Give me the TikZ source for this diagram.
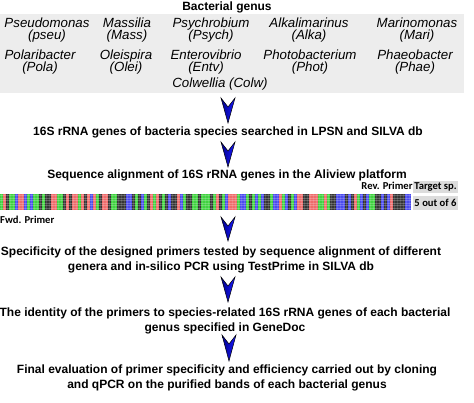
\documentclass[tikz,border=0pt]{standalone}
\usepackage{fontspec}
\setmainfont{Liberation Sans}
\newfontfamily\carlitofont{Carlito}
\definecolor{boxgray}{HTML}{EDEDED}
\definecolor{tagGray}{HTML}{DCDCDC}
\definecolor{algG}{HTML}{3FD23F}
\definecolor{algR}{HTML}{EE6B6B}
\definecolor{algB}{HTML}{4B4BEE}
\definecolor{algK}{HTML}{353535}
\tikzset{
  x=1pt, y=-1pt,
  genus/.style={font=\itshape\fontsize{13.3}{12.5}\selectfont, align=center, inner sep=0pt},
  stepbox/.style={font=\bfseries\fontsize{12}{15}\selectfont, align=center, inner sep=0pt},
  tag/.style={font=\carlitofont\bfseries\fontsize{10.6}{11}\selectfont, inner sep=0pt},
  chev/.style={left color=blue!55!black, right color=blue!90!white, draw=black, line width=0.5pt, line join=miter}
}
\newcommand\chevron[2]{\shade[chev] (#1) ++(-7,0) -- ++(7,#2) -- ++(7,-#2) -- ++(-7,9) -- cycle;}
\begin{document}
\begin{tikzpicture}
\useasboundingbox (0,0) rectangle (474,402);
% genus box
\fill[boxgray] (0,14) rectangle (464,93);
\node[stepbox] (title) at (227,7) {Bacterial genus};
\node[genus] (pseu) at (47,30) {Pseudomonas\\(pseu)};
\node[genus] (mass) at (127,30) {Massilia\\(Mass)};
\node[genus] (psych) at (211,30) {Psychrobium\\(Psych)};
\node[genus] (alka) at (309,30) {Alkalimarinus\\(Alka)};
\node[genus] (mari) at (417,30) {Marinomonas\\(Mari)};
\node[genus] (pola) at (40,62) {Polaribacter\\(Pola)};
\node[genus] (olei) at (126,62) {Oleispira\\(Olei)};
\node[genus] (entv) at (206,62) {Enterovibrio\\(Entv)};
\node[genus] (phot) at (310,62) {Photobacterium\\(Phot)};
\node[genus] (phae) at (415,62) {Phaeobacter\\(Phae)};
\node[genus] (colw) at (220,84) {Colwellia (Colw)};
% steps
\node[stepbox] (s1) at (228,132) {16S rRNA genes of bacteria species searched in LPSN and SILVA db};
\node[stepbox] (s2) at (227,175) {Sequence alignment of 16S rRNA genes in the Aliview platform};
\node[stepbox] (s3) at (221,259.5) {Specificity of the designed primers tested by sequence alignment of different\\genera and in-silico PCR using TestPrime in SILVA db};
\node[stepbox] (s4) at (225,320.5) {The identity of the primers to species-related 16S rRNA genes of each bacterial\\genus specified in GeneDoc};
\node[stepbox] (s5) at (227,377.5) {Final evaluation of primer specificity and efficiency carried out by cloning\\and qPCR on the purified bands of each bacterial genus};
% alignment bar
\pgfmathsetseed{11}
\foreach \i in {0,...,136}{
  \pgfmathparse{\i*3>360 ? 1 : 0}
  \ifnum\pgfmathresult=1
    \pgfmathrandominteger{\c}{0}{9}
    \ifcase\c\relax \def\cc{algK}\or \def\cc{algK}\or \def\cc{algK}\or \def\cc{algB}\or \def\cc{algB}\or \def\cc{algG}\or \def\cc{algK}\or \def\cc{algR}\or \def\cc{algB}\else \def\cc{algK}\fi
  \else
    \pgfmathrandominteger{\c}{0}{9}
    \ifcase\c\relax \def\cc{algG}\or \def\cc{algG}\or \def\cc{algG}\or \def\cc{algR}\or \def\cc{algR}\or \def\cc{algB}\or \def\cc{algB}\or \def\cc{algK}\or \def\cc{algK}\else \def\cc{algK}\fi
  \fi
  \fill[\cc] (\i*3,194) rectangle ++(3.05,16);
}
\foreach \yy in {195.5,198,200.5,203,205.5,208}{
  \draw[white, opacity=0.22, line width=0.6pt] (0,\yy) -- (411,\yy);
}
\foreach \xx in {1.5,4.5,...,411}{
  \draw[white, opacity=0.12, line width=0.5pt] (\xx,194) -- (\xx,210);
}
% tags
\node[tag] (rev) at (387,186) {Rev. Primer};
\fill[tagGray] (413,181) rectangle (458,193);
\node[tag] (target) at (435.5,187) {Target sp.};
\fill[tagGray] (413,196) rectangle (458,210);
\node[tag] (five) at (435.5,203) {5 out of 6};
\node[tag, anchor=west] (fwd) at (0,220) {Fwd. Primer};
% chevrons
\coordinate (c1) at (228,98);
\coordinate (c2) at (228,142);
\coordinate (c3) at (228,217);
\coordinate (c4) at (228,277);
\coordinate (c5) at (229,335);
\chevron{c1}{25}
\chevron{c2}{25}
\chevron{c3}{24}
\chevron{c4}{25}
\chevron{c5}{26}
\end{tikzpicture}
\end{document}
